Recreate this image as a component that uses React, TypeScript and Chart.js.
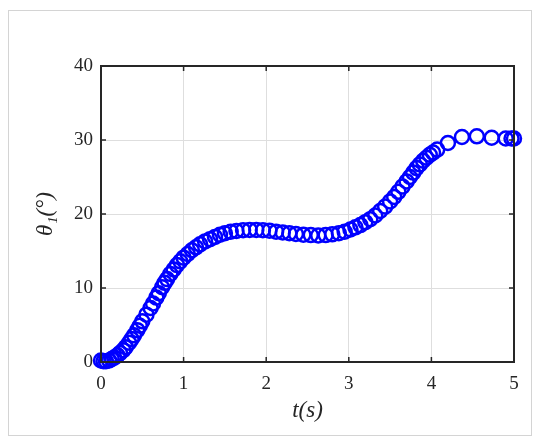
import { useEffect, useRef } from "react";
import { Chart, registerables } from "chart.js";

Chart.register(...registerables);

// time samples (s) and joint angle (deg)
const times = [
  0, 0.03, 0.06, 0.1, 0.13, 0.16, 0.2, 0.23, 0.27, 0.3, 0.34, 0.37, 0.4, 0.44,
  0.47, 0.5, 0.55, 0.6, 0.63, 0.67, 0.7, 0.74, 0.77, 0.8, 0.84, 0.88, 0.92,
  0.96, 1.0, 1.05, 1.1, 1.15, 1.2, 1.26, 1.32, 1.38, 1.44, 1.5, 1.57, 1.64,
  1.72, 1.8, 1.88, 1.96, 2.04, 2.12, 2.2, 2.28, 2.36, 2.45, 2.54, 2.63, 2.72,
  2.8, 2.88, 2.95, 3.02, 3.08, 3.14, 3.2, 3.26, 3.32, 3.38, 3.44, 3.5, 3.55,
  3.6, 3.65, 3.7, 3.74, 3.78, 3.82, 3.86, 3.9, 3.94, 3.98, 4.02, 4.07, 4.2,
  4.37, 4.55, 4.73, 4.9, 4.97, 5.0,
];
const theta1 = [
  0.2, 0.1, 0.1, 0.2, 0.4, 0.6, 0.9, 1.2, 1.6, 2.0, 2.6, 3.1, 3.6, 4.3, 4.9,
  5.5, 6.4, 7.3, 7.9, 8.7, 9.3, 10.1, 10.7, 11.2, 11.9, 12.5, 13.1, 13.6, 14.1,
  14.6, 15.1, 15.5, 15.9, 16.3, 16.6, 16.9, 17.2, 17.4, 17.6, 17.7, 17.8,
  17.85, 17.85, 17.8, 17.75, 17.6, 17.5, 17.4, 17.3, 17.2, 17.15, 17.1, 17.15,
  17.25, 17.4, 17.6, 17.9, 18.2, 18.5, 18.9, 19.3, 19.8, 20.4, 21.0, 21.7,
  22.3, 23.0, 23.7, 24.4, 25.0, 25.6, 26.2, 26.7, 27.2, 27.6, 28.0, 28.3, 28.7,
  29.6, 30.4, 30.5, 30.3, 30.2, 30.2, 30.2,
];
const xTicks = [0, 1, 2, 3, 4, 5];
const yTicks = [0, 10, 20, 30, 40];

const serif = "'Liberation Serif', 'DejaVu Serif', serif";
const axisColor = "#262626";

// matlab style box with inward tick marks
const boxPlugin = {
  id: "boxTicks",
  afterDraw(chart: Chart) {
    const { ctx, chartArea: a, scales } = chart;
    const len = 5;
    ctx.save();
    ctx.strokeStyle = axisColor;
    ctx.lineWidth = 1.5;
    ctx.beginPath();
    xTicks.forEach((v) => {
      const px = scales.x.getPixelForValue(v);
      ctx.moveTo(px, a.bottom);
      ctx.lineTo(px, a.bottom - len);
      ctx.moveTo(px, a.top);
      ctx.lineTo(px, a.top + len);
    });
    yTicks.forEach((v) => {
      const py = scales.y.getPixelForValue(v);
      ctx.moveTo(a.left, py);
      ctx.lineTo(a.left + len, py);
      ctx.moveTo(a.right, py);
      ctx.lineTo(a.right - len, py);
    });
    ctx.stroke();
    ctx.lineWidth = 2;
    ctx.strokeRect(a.left, a.top, a.right - a.left, a.bottom - a.top);
    ctx.restore();
  },
};

export default function App() {
  const canvasRef = useRef<HTMLCanvasElement>(null);
  const chartRef = useRef<Chart | null>(null);

  useEffect(() => {
    if (!canvasRef.current) return;
    if (chartRef.current) chartRef.current.destroy();

    const pts = times.map((t, i) => ({ x: t, y: theta1[i] }));

    chartRef.current = new Chart(canvasRef.current, {
      type: "scatter",
      data: {
        datasets: [
          {
            data: pts,
            showLine: false,
            pointStyle: "circle",
            pointRadius: 7,
            pointHoverRadius: 7,
            pointBorderWidth: 2.5,
            borderColor: "#0000ff",
            backgroundColor: "rgba(0,0,0,0)",
            clip: false,
          },
        ],
      },
      options: {
        responsive: true,
        maintainAspectRatio: false,
        animation: false,
        layout: { padding: { top: 55, right: 17, left: 0, bottom: 0 } },
        plugins: {
          legend: { display: false },
          tooltip: { enabled: false },
        },
        scales: {
          x: {
            type: "linear",
            min: 0,
            max: 5,
            afterFit: (s: any) => {
              s.height = 73;
            },
            afterBuildTicks: (s: any) => {
              s.ticks = xTicks.map((v) => ({ value: v }));
            },
            border: { display: false },
            grid: { color: "#dedede", lineWidth: 1, drawTicks: false },
            ticks: {
              padding: 11,
              color: axisColor,
              font: { family: serif, size: 19 },
            },
            title: {
              display: true,
              text: "t(s)",
              color: axisColor,
              padding: { top: 0, bottom: 10 },
              font: { family: serif, size: 23, style: "italic" },
            },
          },
          y: {
            type: "linear",
            min: 0,
            max: 40,
            afterFit: (s: any) => {
              s.width = 92;
            },
            afterBuildTicks: (s: any) => {
              s.ticks = yTicks.map((v) => ({ value: v }));
            },
            border: { display: false },
            grid: { color: "#dedede", lineWidth: 1, drawTicks: false },
            ticks: {
              padding: 8,
              color: axisColor,
              font: { family: serif, size: 19 },
            },
            title: {
              display: true,
              text: "θ₁(°)",
              color: axisColor,
              padding: { top: 23, bottom: 0 },
              font: { family: serif, size: 23, style: "italic" },
            },
          },
        },
      },
      plugins: [boxPlugin],
    });

    return () => {
      if (chartRef.current) {
        chartRef.current.destroy();
        chartRef.current = null;
      }
    };
  }, []);

  return (
    <div
      style={{
        marginTop: 2,
        width: 522,
        height: 424,
        border: "1px solid #d4d4d4",
        background: "#fff",
      }}
    >
      <canvas ref={canvasRef}></canvas>
    </div>
  );
}
